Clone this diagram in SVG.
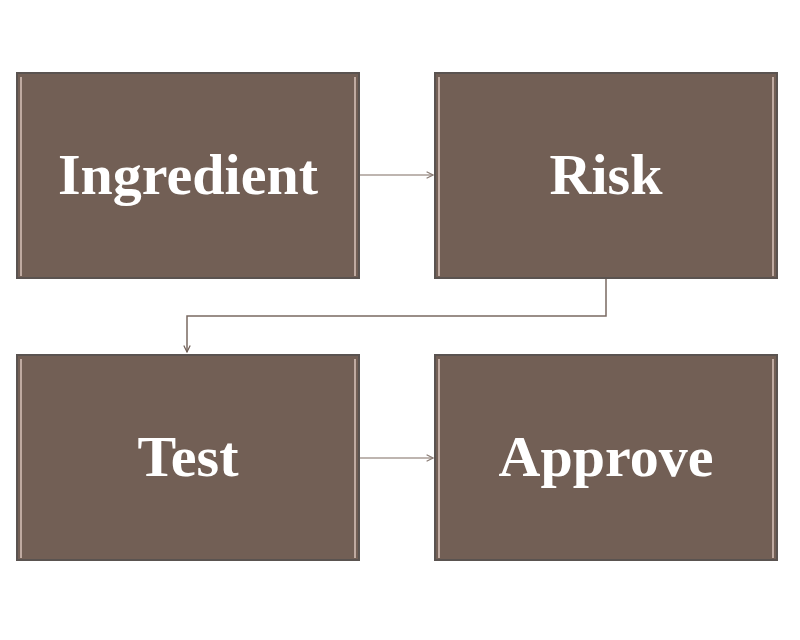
<svg xmlns="http://www.w3.org/2000/svg" width="800" height="640" viewBox="0 0 800 640">
<style>
.box{fill:#725f55;stroke:#5a5350;stroke-width:2}
.inner{fill:none;stroke:#d9c3bb;stroke-width:1.5}
.lbl{font-family:"Liberation Serif","Times New Roman",serif;font-weight:bold;font-size:58px;fill:#ffffff;text-anchor:middle}
.conn{fill:none;stroke-width:1.5}
</style>
<defs>
<marker id="ah" viewBox="0 0 10 10" refX="9" refY="5" markerWidth="8" markerHeight="8" markerUnits="userSpaceOnUse" orient="auto">
<path d="M1,1 L9,5 L1,9" fill="none" stroke="#8a7c75" stroke-width="1.5"/>
</marker>
<marker id="ah2" viewBox="0 0 10 10" refX="9" refY="5" markerWidth="8" markerHeight="8" markerUnits="userSpaceOnUse" orient="auto">
<path d="M1,1 L9,5 L1,9" fill="none" stroke="#6e5e56" stroke-width="1.5"/>
</marker>
</defs>
<rect width="800" height="640" fill="#ffffff"/>
<g id="connectors">
<path class="conn" d="M359,175 L433,175" stroke="#a89c96" marker-end="url(#ah)"/>
<path class="conn" d="M606,279 L606,316 L187,316 L187,352" stroke="#7a6a62" marker-end="url(#ah2)"/>
<path class="conn" d="M359,458 L433,458" stroke="#a89c96" marker-end="url(#ah)"/>
</g>
<g id="node-ingredient">
<rect class="box" x="17" y="73" width="342" height="205"/>
<path class="inner" d="M21,276 L21,77 M355,77 L355,276"/>
<text class="lbl" x="188" y="194">Ingredient</text>
</g>
<g id="node-risk">
<rect class="box" x="435" y="73" width="342" height="205"/>
<path class="inner" d="M439,276 L439,77 M773,77 L773,276"/>
<text class="lbl" x="606" y="194">Risk</text>
</g>
<g id="node-test">
<rect class="box" x="17" y="355" width="342" height="205"/>
<path class="inner" d="M21,558 L21,359 M355,359 L355,558"/>
<text class="lbl" x="188" y="476">Test</text>
</g>
<g id="node-approve">
<rect class="box" x="435" y="355" width="342" height="205"/>
<path class="inner" d="M439,558 L439,359 M773,359 L773,558"/>
<text class="lbl" x="606" y="476">Approve</text>
</g>
</svg>
